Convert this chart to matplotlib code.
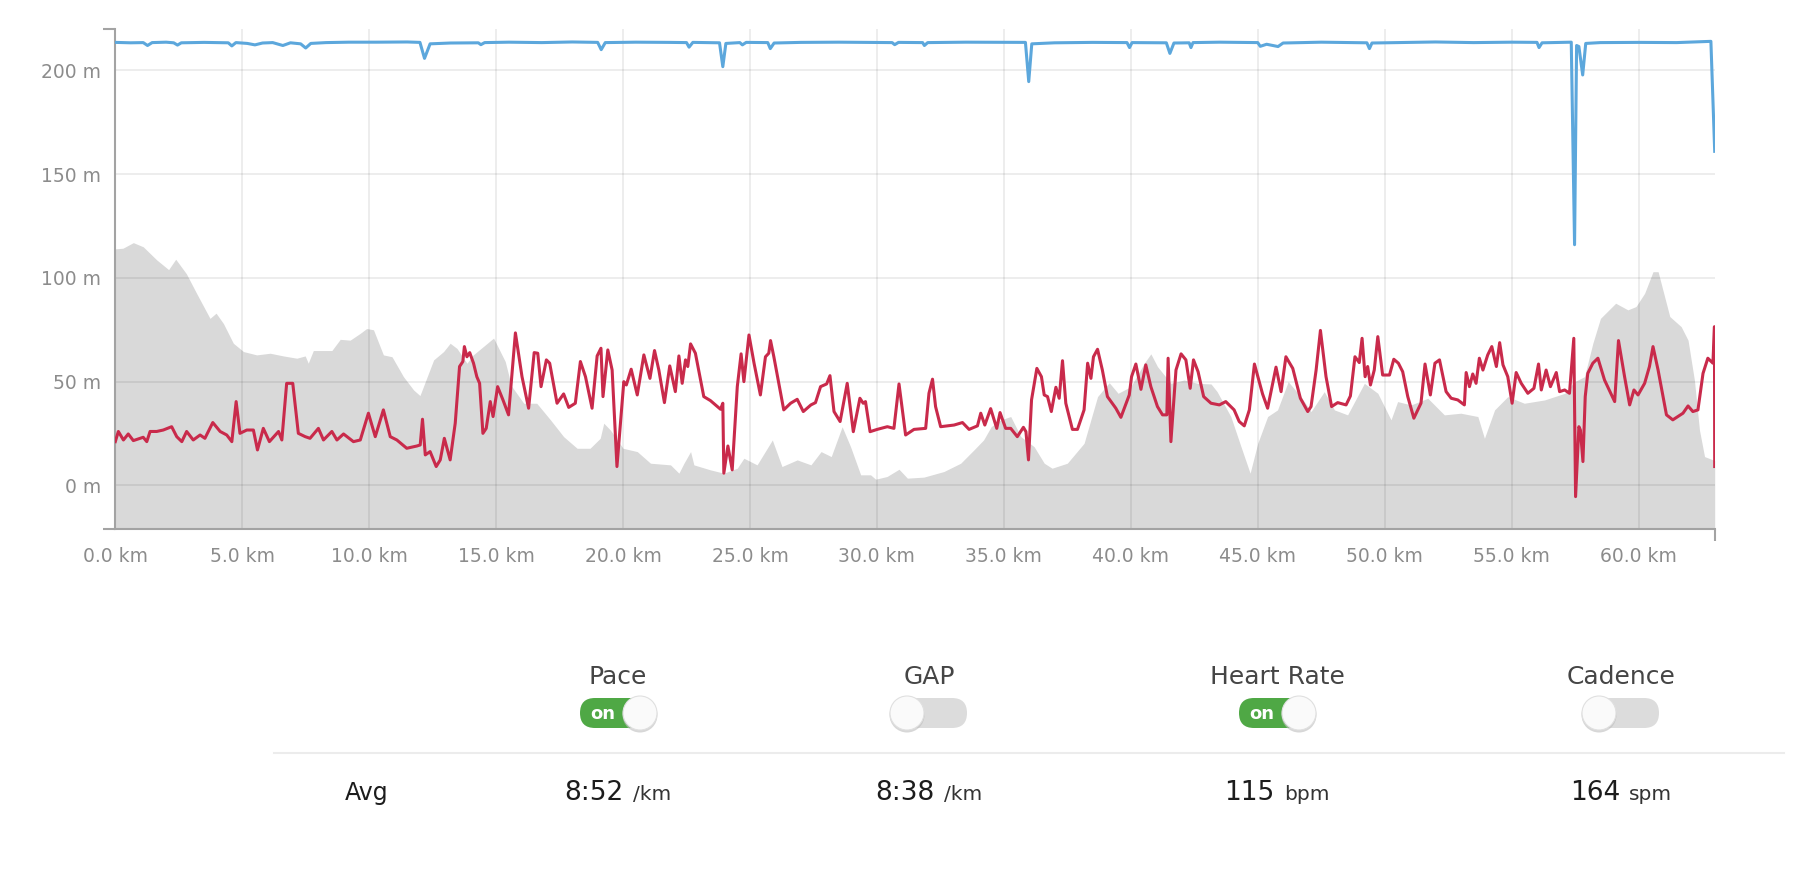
import matplotlib
matplotlib.use('Agg')
import matplotlib.pyplot as plt
from matplotlib.patches import FancyBboxPatch, Circle
import numpy as np

# ---- data (distance in km, values in chart units "m") ----
elev_km = [0.0, 0.3, 0.71, 1.1, 1.63, 2.1, 2.38, 2.8, 3.2, 3.73,
           3.97, 4.26, 4.65, 5.05, 5.57, 6.1, 6.62, 7.15, 7.48, 7.6,
           7.8, 8.53, 8.86, 9.25, 9.65, 9.9, 10.17, 10.56, 10.9, 11.35,
           11.75, 12.0, 12.54, 12.93, 13.19, 13.46, 13.85, 14.1, 14.9, 15.36,
           15.6, 16.09, 16.6, 17.14, 17.66, 18.19, 18.7, 19.1, 19.24, 19.5,
           20.0, 20.56, 21.08, 21.87, 22.2, 22.4, 22.66, 22.79, 23.44, 23.97,
           24.5, 24.76, 25.28, 25.88, 26.26, 26.86, 27.4, 27.8, 28.2, 28.63,
           28.96, 29.36, 29.75, 29.95, 30.4, 30.87, 31.2, 31.85, 32.64, 33.3,
           33.82, 34.2, 34.5, 34.88, 35.27, 35.67, 36.19, 36.59, 36.9, 37.5,
           38.16, 38.69, 39.15, 39.5, 40.0, 40.53, 40.79, 41.05, 41.58, 42.1,
           42.63, 43.16, 43.4, 43.94, 44.34, 44.7, 45.0, 45.39, 45.78, 46.2,
           46.7, 47.1, 47.62, 48.02, 48.54, 49.2, 49.73, 50.25, 50.51, 51.04,
           51.7, 52.35, 53.0, 53.67, 53.93, 54.33, 54.85, 55.5, 56.3, 57.1,
           57.48, 57.87, 58.2, 58.5, 59.1, 59.58, 59.9, 60.24, 60.57, 60.77,
           61.23, 61.68, 61.95, 62.2, 62.4, 62.6, 63.0]
elev_m = [114.0, 114.3, 117.0, 115.0, 108.7, 104.0, 109.0, 102.0, 92.6, 80.5,
          83.0, 78.0, 68.5, 64.5, 62.9, 63.7, 62.4, 61.3, 62.4, 58.9,
          65.0, 65.0, 70.4, 70.0, 73.3, 75.6, 75.0, 62.9, 62.0, 52.4,
          46.0, 43.3, 60.5, 64.5, 68.5, 66.0, 58.9, 62.9, 71.0, 59.7,
          48.0, 39.6, 39.6, 31.6, 23.5, 17.9, 17.9, 22.7, 30.0, 26.7,
          17.9, 16.3, 10.7, 9.9, 5.9, 10.7, 16.3, 9.9, 7.5, 5.9,
          8.3, 13.1, 9.9, 21.9, 9.1, 12.3, 9.9, 16.3, 13.9, 28.3,
          18.7, 5.1, 5.1, 3.0, 4.3, 7.8, 3.5, 4.0, 6.7, 10.7,
          17.1, 21.9, 28.3, 31.6, 33.2, 23.5, 18.7, 10.7, 8.3, 10.7,
          20.3, 42.8, 49.5, 44.4, 47.6, 58.9, 63.4, 57.3, 49.2, 50.8,
          49.2, 48.9, 45.2, 33.2, 18.7, 5.9, 20.3, 33.2, 36.4, 50.0,
          42.8, 35.6, 45.2, 36.4, 34.0, 49.2, 44.4, 31.6, 40.4, 38.8,
          42.0, 34.0, 34.8, 33.2, 22.7, 36.4, 42.8, 39.6, 41.2, 44.4,
          50.0, 52.4, 68.5, 80.5, 87.8, 84.6, 86.2, 92.6, 103.0, 103.0,
          81.4, 76.5, 70.0, 50.8, 26.7, 13.9, 12.0]

hr_km = [0.0, 0.12, 0.32, 0.51, 0.71, 1.1, 1.24, 1.37, 1.63, 1.89,
         2.22, 2.42, 2.62, 2.81, 3.07, 3.34, 3.53, 3.84, 4.13, 4.39,
         4.59, 4.76, 4.91, 5.18, 5.44, 5.6, 5.83, 6.07, 6.43, 6.56,
         6.75, 6.99, 7.21, 7.48, 7.67, 8.0, 8.2, 8.53, 8.73, 8.99,
         9.38, 9.65, 9.97, 10.24, 10.56, 10.83, 11.09, 11.48, 11.88, 12.01,
         12.1, 12.21, 12.4, 12.64, 12.8, 12.96, 13.19, 13.39, 13.56, 13.69,
         13.75, 13.85, 13.96, 14.11, 14.24, 14.35, 14.48, 14.61, 14.77, 14.88,
         15.06, 15.27, 15.49, 15.76, 16.02, 16.28, 16.5, 16.64, 16.77, 16.98,
         17.11, 17.4, 17.66, 17.86, 18.12, 18.32, 18.52, 18.78, 18.98, 19.13,
         19.21, 19.4, 19.57, 19.76, 20.03, 20.13, 20.32, 20.56, 20.82, 21.06,
         21.24, 21.41, 21.63, 21.84, 22.06, 22.2, 22.33, 22.46, 22.55, 22.66,
         22.85, 23.18, 23.44, 23.84, 23.93, 23.97, 24.13, 24.3, 24.5, 24.65,
         24.76, 24.96, 25.16, 25.41, 25.61, 25.74, 25.81, 25.94, 26.33, 26.6,
         26.86, 27.1, 27.4, 27.58, 27.78, 28.02, 28.15, 28.31, 28.55, 28.83,
         29.07, 29.33, 29.46, 29.55, 29.73, 30.01, 30.41, 30.67, 30.87, 31.13,
         31.46, 31.92, 32.05, 32.19, 32.31, 32.51, 32.77, 33.04, 33.37, 33.63,
         33.96, 34.09, 34.25, 34.48, 34.72, 34.85, 35.07, 35.27, 35.53, 35.77,
         35.87, 35.97, 36.09, 36.3, 36.48, 36.59, 36.72, 36.87, 37.05, 37.18,
         37.31, 37.44, 37.7, 37.9, 38.16, 38.3, 38.43, 38.53, 38.69, 38.88,
         39.08, 39.41, 39.61, 39.94, 40.03, 40.2, 40.4, 40.59, 40.79, 41.05,
         41.25, 41.42, 41.47, 41.58, 41.78, 41.98, 42.17, 42.34, 42.47, 42.65,
         42.87, 43.16, 43.49, 43.74, 44.07, 44.27, 44.47, 44.67, 44.87, 45.19,
         45.39, 45.72, 45.92, 46.11, 46.38, 46.68, 46.97, 47.1, 47.3, 47.47,
         47.69, 47.91, 48.15, 48.48, 48.65, 48.83, 49.0, 49.11, 49.23, 49.33,
         49.44, 49.59, 49.73, 49.92, 50.19, 50.36, 50.54, 50.71, 50.91, 51.15,
         51.43, 51.59, 51.8, 51.98, 52.16, 52.42, 52.62, 52.88, 53.14, 53.21,
         53.34, 53.47, 53.6, 53.73, 53.87, 54.06, 54.22, 54.4, 54.53, 54.66,
         54.85, 55.02, 55.18, 55.38, 55.64, 55.88, 56.06, 56.17, 56.36, 56.53,
         56.76, 56.89, 57.09, 57.28, 57.45, 57.52, 57.65, 57.71, 57.81, 57.9,
         58.0, 58.2, 58.4, 58.66, 59.06, 59.21, 59.45, 59.65, 59.82, 59.98,
         60.24, 60.43, 60.57, 60.77, 61.1, 61.35, 61.55, 61.75, 61.95, 62.14,
         62.34, 62.54, 62.73, 62.93, 62.99, 63.0]
hr_val = [21.1, 26.0, 21.9, 24.8, 21.6, 23.2, 21.1, 26.0, 26.0, 26.7,
          28.3, 23.5, 21.1, 26.0, 21.9, 24.3, 22.7, 30.3, 26.0, 24.3,
          21.1, 40.4, 25.1, 26.7, 26.7, 17.1, 27.5, 21.1, 26.0, 21.9,
          49.2, 49.2, 25.1, 23.5, 22.7, 27.5, 21.9, 26.0, 21.9, 24.8,
          21.1, 21.9, 34.8, 23.5, 36.4, 23.5, 21.9, 17.9, 19.0, 19.5,
          31.9, 14.7, 16.3, 9.1, 12.3, 22.7, 12.3, 30.0, 57.3, 59.7,
          66.9, 62.0, 64.0, 58.9, 52.4, 49.2, 25.1, 27.5, 40.4, 33.2,
          47.6, 41.2, 34.0, 73.5, 52.4, 37.2, 64.0, 63.7, 47.6, 60.5,
          58.9, 39.6, 44.1, 37.6, 39.6, 59.7, 52.4, 37.2, 62.4, 66.1,
          42.8, 65.3, 55.6, 9.1, 50.0, 48.4, 56.0, 43.6, 62.9, 51.6,
          65.0, 55.6, 39.9, 57.6, 45.2, 62.4, 49.2, 60.5, 57.3, 68.2,
          63.7, 42.8, 40.9, 36.7, 39.6, 5.9, 19.0, 7.5, 47.6, 63.4,
          50.0, 72.5, 58.9, 43.6, 62.0, 63.7, 69.8, 62.0, 36.4, 39.6,
          41.5, 35.6, 38.8, 39.9, 47.6, 48.9, 52.9, 35.6, 30.8, 49.2,
          25.9, 42.0, 39.6, 40.4, 25.9, 27.0, 28.3, 27.5, 48.9, 24.3,
          27.0, 27.5, 44.4, 51.2, 38.0, 28.3, 28.7, 29.1, 30.3, 27.0,
          28.7, 34.8, 29.1, 37.0, 27.5, 35.1, 27.5, 27.5, 23.5, 28.0,
          25.9, 12.3, 41.2, 56.4, 52.4, 43.6, 42.8, 35.6, 47.3, 42.0,
          60.1, 39.6, 27.0, 27.0, 36.4, 58.9, 51.6, 62.0, 65.6, 55.6,
          42.8, 37.2, 32.8, 43.6, 52.4, 58.5, 46.3, 58.1, 47.6, 38.0,
          34.0, 34.0, 61.3, 21.1, 55.6, 63.4, 60.5, 46.8, 60.5, 54.8,
          42.8, 39.6, 38.8, 40.4, 36.4, 30.8, 28.7, 36.4, 58.5, 44.1,
          37.2, 57.0, 45.2, 62.0, 56.4, 42.0, 35.6, 38.0, 55.6, 74.7,
          52.4, 38.0, 39.9, 38.8, 43.1, 62.0, 59.2, 70.9, 52.4, 57.3,
          48.4, 55.6, 71.7, 53.2, 53.2, 60.8, 58.9, 54.8, 42.8, 32.4,
          39.6, 58.5, 43.6, 58.9, 60.5, 45.2, 42.0, 41.2, 38.8, 54.4,
          47.6, 53.7, 49.2, 61.3, 55.6, 62.9, 66.9, 57.3, 68.8, 58.1,
          52.4, 39.6, 54.4, 49.2, 44.4, 46.8, 58.5, 46.0, 55.6, 47.6,
          54.4, 45.2, 46.0, 44.4, 70.9, -5.4, 28.3, 26.7, 11.5, 42.8,
          54.0, 58.9, 61.3, 50.8, 40.4, 69.8, 52.4, 38.8, 46.0, 43.6,
          49.2, 57.3, 66.9, 55.6, 34.0, 31.6, 33.2, 34.8, 38.3, 35.6,
          36.4, 54.0, 61.3, 58.9, 76.5, 9.1]

pace_km = [0.0, 0.6, 1.1, 1.27, 1.45, 2.0, 2.3, 2.45, 2.6, 3.5,
           4.45, 4.59, 4.75, 5.2, 5.5, 5.8, 6.2, 6.6, 6.9, 7.3,
           7.5, 7.7, 8.3, 9.2, 10.3, 11.5, 12.0, 12.18, 12.4, 13.2,
           14.3, 14.4, 14.55, 15.5, 16.8, 18.0, 19.0, 19.14, 19.3, 20.5,
           21.8, 22.5, 22.6, 22.75, 23.8, 23.93, 24.05, 24.6, 24.7, 24.85,
           25.7, 25.8, 25.95, 27.0, 28.5, 30.6, 30.7, 30.85, 31.8, 31.87,
           32.0, 33.5, 35.85, 35.98, 36.1, 37.0, 38.5, 39.85, 39.95, 40.05,
           41.4, 41.54, 41.7, 42.3, 42.37, 42.45, 43.5, 45.0, 45.1, 45.35,
           45.8, 46.0, 47.5, 49.3, 49.4, 49.5, 50.5, 52.0, 53.5, 55.0,
           56.0, 56.08, 56.2, 57.35, 57.48, 57.56, 57.65, 57.8, 57.92, 58.5,
           60.0, 61.5, 62.85, 63.0]
pace_val = [213.5, 213.3, 213.4, 212.0, 213.4, 213.6, 213.3, 212.2, 213.3, 213.5,
            213.3, 211.8, 213.4, 213.0, 212.3, 213.2, 213.4, 212.0, 213.3, 212.8,
            210.8, 213.0, 213.4, 213.6, 213.6, 213.7, 213.5, 205.8, 212.8, 213.2,
            213.3, 212.4, 213.4, 213.6, 213.4, 213.7, 213.5, 210.0, 213.4, 213.6,
            213.5, 213.4, 211.2, 213.5, 213.3, 201.8, 213.0, 213.4, 212.3, 213.5,
            213.4, 210.5, 213.2, 213.5, 213.6, 213.4, 212.4, 213.5, 213.4, 212.0,
            213.4, 213.6, 213.5, 194.6, 212.8, 213.3, 213.5, 213.4, 211.0, 213.4,
            213.3, 208.2, 213.2, 213.3, 211.0, 213.4, 213.6, 213.4, 211.6, 212.6,
            211.5, 213.2, 213.6, 213.3, 210.5, 213.2, 213.4, 213.7, 213.4, 213.6,
            213.5, 211.0, 213.3, 213.6, 116.0, 212.0, 211.5, 197.8, 213.0, 213.4,
            213.5, 213.4, 214.0, 161.0]

km_ticks = [0, 5, 10, 15, 20, 25, 30, 35, 40, 45, 50, 55, 60]
m_ticks = [0, 50, 100, 150, 200]
x_max = 63.0
y_min, y_max = -21, 220

metrics = ['Pace', 'GAP', 'Heart Rate', 'Cadence']
metric_on = [True, False, True, False]
avg_values = ['8:52', '8:38', '115', '164']
avg_units = ['/km', '/km', 'bpm', 'spm']

W, H = 1808, 872
fig = plt.figure(figsize=(W / 100, H / 100), dpi=100)

# chart area in pixel terms of the reference
left, right, top, bottom = 115.3, 1714.7, 28.9, 529.0
ax = fig.add_axes([left / W, 1 - bottom / H, (right - left) / W, (bottom - top) / H])

ax.fill_between(elev_km, elev_m, y_min, color='#d9d9d9', lw=0, zorder=1)
ax.plot(hr_km, hr_val, color='#c92a4b', lw=2.2, zorder=3, solid_joinstyle='round')
ax.plot(pace_km, pace_val, color='#5ca7dc', lw=2.2, zorder=3, solid_joinstyle='round')

ax.set_xlim(0, x_max)
ax.set_ylim(y_min, y_max)
ax.set_xticks(km_ticks)
ax.set_xticklabels([f'{t:.1f} km' for t in km_ticks])
ax.set_yticks(m_ticks)
ax.set_yticklabels([f'{t} m' for t in m_ticks])
ax.set_xticks([0, x_max], minor=True)
ax.set_yticks([y_min, y_max], minor=True)

ax.grid(True, which='major', color='k', alpha=0.08, lw=1.3)
for s in ['top', 'right']:
    ax.spines[s].set_visible(False)
for s in ['left', 'bottom']:
    ax.spines[s].set_color('#a3a3a3')
    ax.spines[s].set_linewidth(1.5)
ax.tick_params(which='major', length=0, labelsize=13.5, labelcolor='#8c8c8c')
ax.tick_params(axis='y', which='major', pad=10)
ax.tick_params(axis='x', which='major', pad=13)
ax.tick_params(which='minor', length=8.5, width=1.5, color='#a3a3a3')

# bottom panel with toggles and averages (pixel coordinates)
ov = fig.add_axes([0, 0, 1, 1])
ov.set_xlim(0, W)
ov.set_ylim(H, 0)
ov.axis('off')
ov.patch.set_visible(False)

centers = [618, 929, 1277, 1621]
renderer = fig.canvas.get_renderer()

for c, name, on, val, unit in zip(centers, metrics, metric_on, avg_values, avg_units):
    ov.text(c, 684, name, ha='center', va='baseline', fontsize=18, color='#454545')

    tw, th = 76, 30
    track = FancyBboxPatch((c - tw / 2, 713 - th / 2), tw, th,
                           boxstyle=f'round,pad=0,rounding_size={th / 2}',
                           fc='#4fa845' if on else '#dcdcdc', ec='none', zorder=2)
    ov.add_patch(track)
    kx = c + 22 if on else c - 22
    ov.add_patch(Circle((kx, 715), 17.5, fc='#bdbdbd', ec='none', alpha=0.6, zorder=3))
    ov.add_patch(Circle((kx, 713), 17, fc='#fafafa', ec='#e0e0e0', lw=0.8, zorder=4))
    if on:
        ov.text(c - 15, 714, 'on', ha='center', va='center', fontsize=13,
                fontweight='bold', color='white', zorder=5)

    t1 = ov.text(0, 800, val, ha='left', va='baseline', fontsize=19, color='#1c1c1c')
    t2 = ov.text(0, 800, unit, ha='left', va='baseline', fontsize=14.5, color='#333333')
    w1 = t1.get_window_extent(renderer).width
    w2 = t2.get_window_extent(renderer).width
    gap = 9
    x0 = c - (w1 + gap + w2) / 2
    t1.set_x(x0)
    t2.set_x(x0 + w1 + gap)

ov.plot([274, 1784], [753, 753], color='#ececec', lw=1.5)
ov.text(367, 800, 'Avg', ha='center', va='baseline', fontsize=17, color='#1c1c1c')

fig.savefig('out.png', dpi=100)
